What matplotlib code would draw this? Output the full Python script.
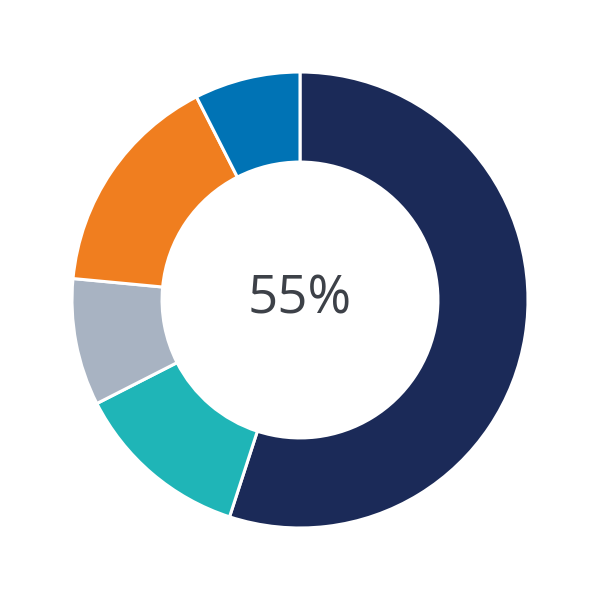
import matplotlib.pyplot as plt

# shares, clockwise from 12 o'clock
labels = ['Navy', 'Teal', 'Gray', 'Orange', 'Blue']
shares = [55, 12.5, 9, 16, 7.5]
colors = ['#1b2a58', '#1fb5b7', '#a8b3c2', '#f07e1f', '#0073b5']
center_text = '55%'

fig = plt.figure(figsize=(6, 6), dpi=100)
ax = fig.add_axes([0, 0, 1, 1])

ax.pie(shares, colors=colors, startangle=90, counterclock=False,
       radius=1, wedgeprops=dict(width=0.395, edgecolor='white', linewidth=2.2))

ax.text(0, 0, center_text, ha='center', va='center', fontsize=38,
        color='#3d4148', family='Open Sans')

lim = 300 / 228
ax.set_xlim(-lim, lim)
ax.set_ylim(-lim, lim)
ax.set_aspect('equal')
ax.axis('off')

fig.savefig('out.png', dpi=100)
